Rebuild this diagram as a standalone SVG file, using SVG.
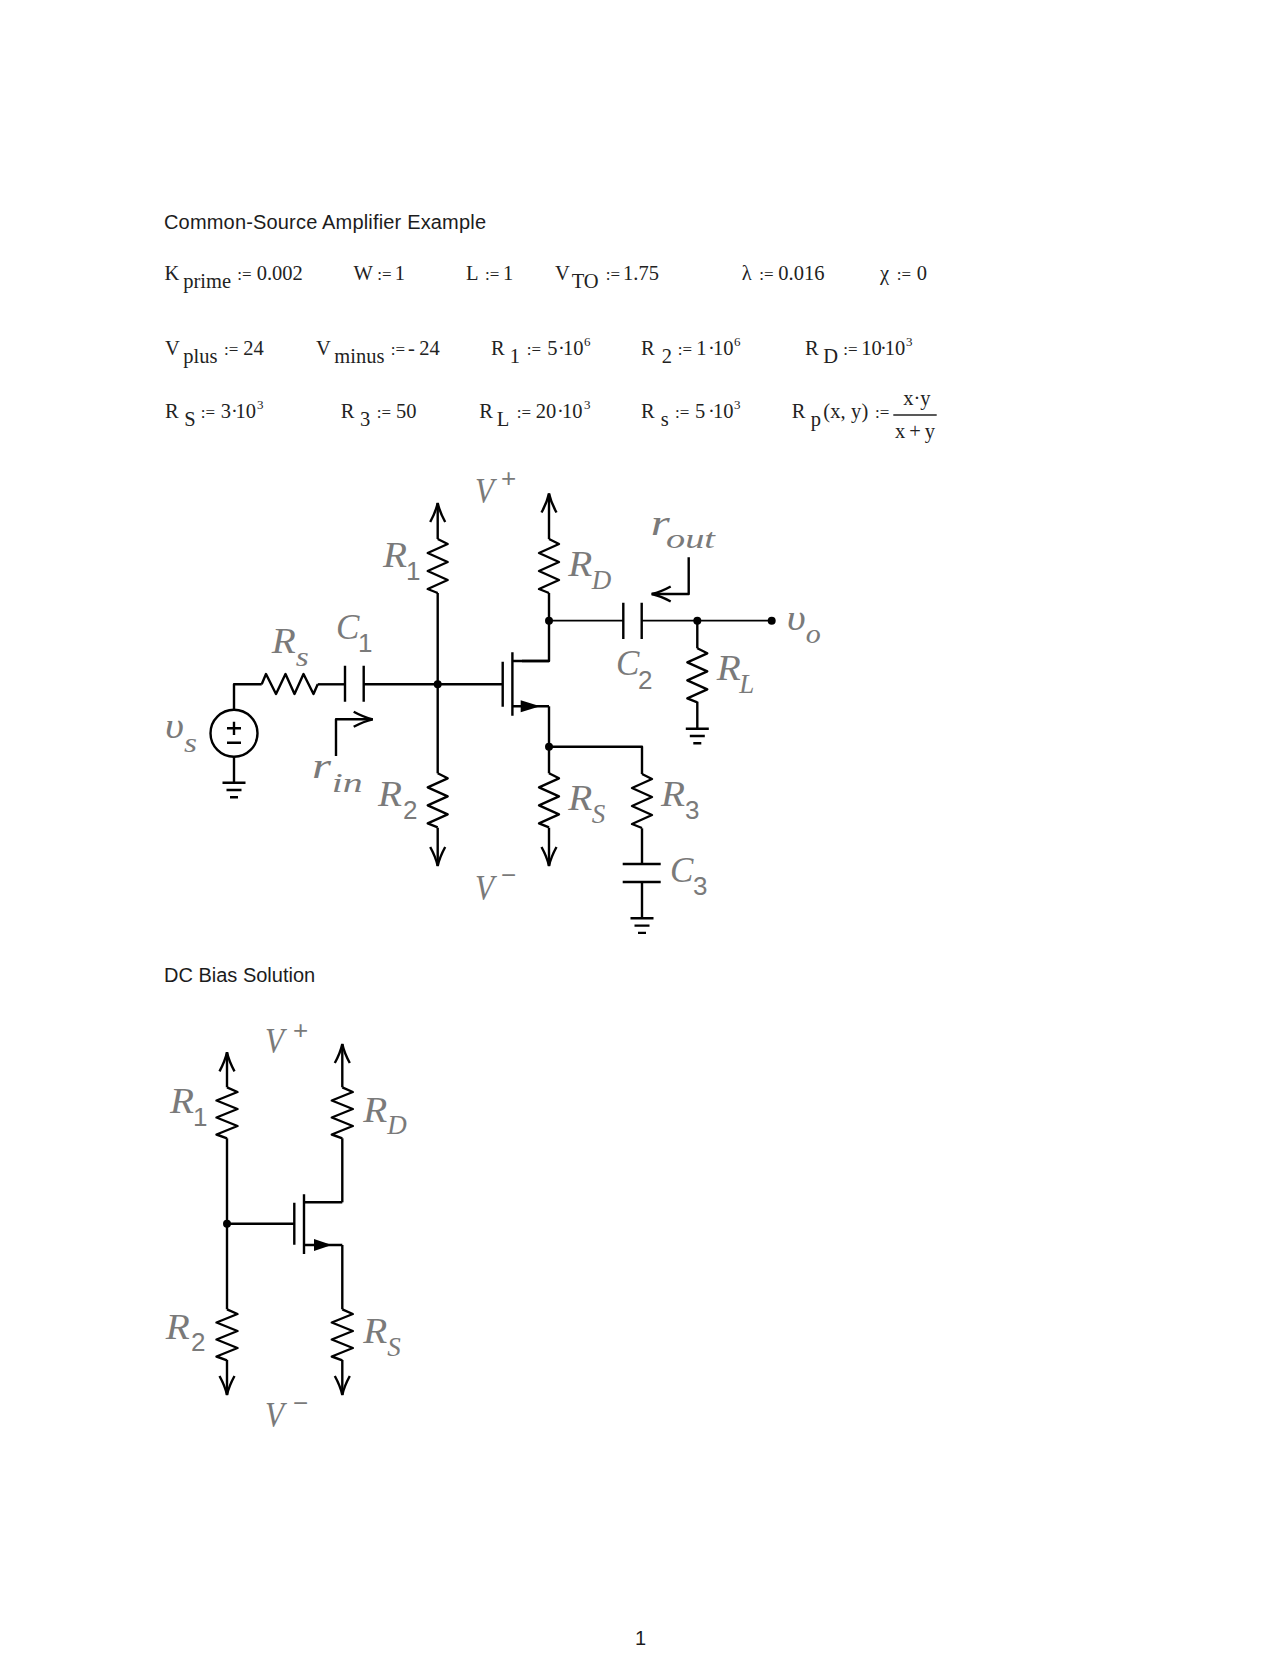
<svg xmlns="http://www.w3.org/2000/svg" xmlns:xlink="http://www.w3.org/1999/xlink" width="1280" height="1656" viewBox="0 0 1280 1656">
<style>
.h{font:20px "Liberation Sans",Arial,sans-serif;fill:#1c1c1c}
.e{font:20.5px "Liberation Serif","Times New Roman",serif;fill:#222}
.c{font:17px "Liberation Serif","Times New Roman",serif;fill:#222}
.u{font:13px "Liberation Serif","Times New Roman",serif;fill:#222}
.w{fill:none;stroke:#000;stroke-width:2.4;stroke-linejoin:round}
.t{stroke-width:1.800}
.a{fill:none;stroke:#000;stroke-width:2.4;stroke-linejoin:round;marker-end:url(#open)}
.d{fill:#000}
.l{font:italic 35px "Liberation Serif","Times New Roman",serif;fill:#7a7a7a}
.s{font:italic 27px "Liberation Serif","Times New Roman",serif;fill:#7a7a7a}
.n{font:26px "Liberation Sans",Arial,sans-serif;fill:#7a7a7a}
</style>
<defs>
<marker id="open" markerUnits="userSpaceOnUse" markerWidth="30" markerHeight="24" refX="20" refY="12" orient="auto" overflow="visible"><path d="M1 4.500Q11 10 20 12Q11 14 1 19.500" fill="none" stroke="#000" stroke-width="2.400"/></marker>
<path id="resA" class="w" d="M0 0L10 5L-10 14L10 23L-10 32L10 41L-10 50L0 54"/>
<path id="resB" class="w" d="M0 0L10.500 4.700L-10.500 13.200L10.500 21.700L-10.500 30.200L10.500 38.700L-10.500 47.200L0 51"/>
<g id="gnd"><path class="w" d="M-11.500 0H11.500M-7.500 7.300H7.500M-4 14.600H4"/></g>
<g id="fetA"><path class="w" d="M0 -22.500V22.500M9.700 -32V31.500M9.700 -23.300H46.300M9.700 22H46.300"/><path class="d" d="M18 16L37.500 22L18 28Z"/></g>
<g id="fetB"><path class="w" d="M0 -21V21M9.700 -29.400V30.300M9.700 -21.400H48M9.700 21.300H48"/><path class="d" d="M19.700 15.300L37.400 21.300L19.700 27.300Z"/></g>
</defs>

<g id="equations">
<text class="h" x="164" y="229" textLength="322">Common-Source Amplifier Example</text>
<text class="e" x="164.500" y="280">K</text><text class="e" x="183.300" y="287.500">prime</text><text class="c" x="237.300" y="280">:=</text><text class="e" x="256.700" y="280">0.002</text>
<text class="e" x="353.500" y="280">W</text><text class="c" x="377.300" y="280">:=</text><text class="e" x="394.700" y="280">1</text>
<text class="e" x="466" y="280">L</text><text class="c" x="485" y="280">:=</text><text class="e" x="503" y="280">1</text>
<text class="e" x="555" y="280">V</text><text class="e" x="571.700" y="287.700">TO</text><text class="c" x="605.700" y="280">:=</text><text class="e" x="623" y="280">1.75</text>
<text class="e" x="741.700" y="280">λ</text><text class="c" x="759.300" y="280">:=</text><text class="e" x="778.300" y="280">0.016</text>
<text class="e" x="880" y="280">χ</text><text class="c" x="896.700" y="280">:=</text><text class="e" x="916.700" y="280">0</text>

<text class="e" x="165" y="355">V</text><text class="e" x="183.300" y="362.700">plus</text><text class="c" x="224" y="355">:=</text><text class="e" x="243.300" y="355">24</text>
<text class="e" x="316" y="355">V</text><text class="e" x="334.300" y="362.700">minus</text><text class="c" x="390.700" y="355">:=</text><text class="e" x="408" y="355">-</text><text class="e" x="419.300" y="355">24</text>
<text class="e" x="491" y="355">R</text><text class="e" x="509.700" y="362.700">1</text><text class="c" x="526.700" y="355">:=</text><text class="e" x="547.300" y="355">5</text><text class="e" x="558" y="355">·</text><text class="e" x="563" y="355">10</text><text class="u" x="584" y="346">6</text>
<text class="e" x="641" y="355">R</text><text class="e" x="661.700" y="362.700">2</text><text class="c" x="677.700" y="355">:=</text><text class="e" x="696.300" y="355">1</text><text class="e" x="708" y="355">·</text><text class="e" x="713" y="355">10</text><text class="u" x="734" y="346">6</text>
<text class="e" x="805" y="355">R</text><text class="e" x="823.300" y="362.700">D</text><text class="c" x="843.300" y="355">:=</text><text class="e" x="861.300" y="355">10</text><text class="e" x="880" y="355">·</text><text class="e" x="884.700" y="355">10</text><text class="u" x="906" y="346">3</text>

<text class="e" x="165" y="418">R</text><text class="e" x="184.300" y="425.700">S</text><text class="c" x="200.700" y="418">:=</text><text class="e" x="220.700" y="418">3</text><text class="e" x="231" y="418">·</text><text class="e" x="235.500" y="418">10</text><text class="u" x="257" y="409">3</text>
<text class="e" x="340.700" y="418">R</text><text class="e" x="360" y="425.700">3</text><text class="c" x="376.700" y="418">:=</text><text class="e" x="396" y="418">50</text>
<text class="e" x="479.300" y="418">R</text><text class="e" x="496.700" y="425.700">L</text><text class="c" x="516.700" y="418">:=</text><text class="e" x="535.700" y="418">20</text><text class="e" x="557" y="418">·</text><text class="e" x="562" y="418">10</text><text class="u" x="584" y="409">3</text>
<text class="e" x="641" y="418">R</text><text class="e" x="660.700" y="425.700">s</text><text class="c" x="675" y="418">:=</text><text class="e" x="695" y="418">5</text><text class="e" x="708" y="418">·</text><text class="e" x="713" y="418">10</text><text class="u" x="734" y="409">3</text>
<text class="e" x="791.700" y="418">R</text><text class="e" x="810.700" y="425.700">p</text><text class="e" x="823.300" y="418" textLength="45">(x, y)</text><text class="c" x="875" y="418">:=</text>
<text class="e" x="903.300" y="405">x·y</text><path d="M893.300 415H936.700" stroke="#222" stroke-width="1.300"/><text class="e" x="895" y="438.300" letter-spacing="4">x+y</text>
</g>

<g id="connectors">
<path class="a" d="M437.700 539V503"/>
<path class="a" d="M437.700 827.700V866"/>
<path class="a" d="M549 539V493.500"/>
<path class="a" d="M549 827.700V866"/>
<path class="a" d="M336 756V719.300H372.700"/>
<path class="a" d="M688.700 557.300V594H651.700"/>
<path class="w" d="M437.700 593V773.300"/>
<path class="w" d="M363.700 684.300H502.700"/>
<path class="w" d="M317.700 684.300H345"/>
<path class="w" d="M261.700 684.300H234V709.800"/>
<path class="w" d="M234 756.800V782.700"/>
<path class="w" d="M549 593V661H522"/>
<path class="w" d="M549 706.300V773.300"/>
<path class="w t" d="M549 620.700H623.300"/>
<path class="w t" d="M641.700 620.700H771.700"/>
<path class="w" d="M697.300 620.700V648.300"/>
<path class="w" d="M697.300 701.700V728.700"/>
<path class="w" d="M549 746.700H642V774"/>
<path class="w" d="M642 828.300V864"/>
<path class="w" d="M642 882V918.300"/>
<path class="a" d="M227 1087.300V1052.300"/>
<path class="a" d="M227 1360V1395"/>
<path class="a" d="M342.300 1087.300V1044"/>
<path class="a" d="M342.300 1360V1395"/>
<path class="w" d="M227 1138.300V1309.300"/>
<path class="w" d="M227 1223.700H294.300"/>
<path class="w" d="M342.300 1138.300V1202.300"/>
<path class="w" d="M342.300 1245V1309.300"/>
</g>

<g id="vs">
<circle cx="234" cy="733.300" r="23.500" class="w"/>
<path class="w" d="M227 728.300H241M234 721.700V735M227 742.700H241"/>
<text class="l" x="165" y="738" textLength="19" lengthAdjust="spacingAndGlyphs">υ</text><text class="s" x="184" y="751.700" textLength="13" lengthAdjust="spacingAndGlyphs">s</text>
</g>
<g id="gnd-vs"><use xlink:href="#gnd" x="234" y="782.700"/></g>
<g id="Rs"><path class="w" d="M261.700 684.300L266 674L276 694L285.500 674L294.500 694L303.500 674L313.500 694L317.700 684.300"/>
<text class="l" x="271.700" y="652.700" textLength="24" lengthAdjust="spacingAndGlyphs">R</text><text class="s" x="295.700" y="666" textLength="13" lengthAdjust="spacingAndGlyphs">s</text></g>
<g id="C1"><path class="w" d="M345 665.700V701.700M363.700 665.700V701.700"/>
<text class="l" x="336" y="639.300">C</text><text class="n" x="358" y="652.300">1</text></g>
<g id="rin"><text class="l" x="312" y="778.300" textLength="19" lengthAdjust="spacingAndGlyphs">r</text><text class="s" x="331.700" y="792.300" textLength="31" lengthAdjust="spacingAndGlyphs">in</text></g>
<g id="R1"><use xlink:href="#resA" x="437.700" y="539"/>
<text class="l" x="383" y="566.700" textLength="24" lengthAdjust="spacingAndGlyphs">R</text><text class="n" x="406" y="580">1</text></g>
<g id="R2"><use xlink:href="#resA" x="437.700" y="773.300"/>
<text class="l" x="378" y="806" textLength="24" lengthAdjust="spacingAndGlyphs">R</text><text class="n" x="403" y="819.300">2</text></g>
<g id="J1"><circle class="d" cx="437.700" cy="684.300" r="4"/></g>
<g id="M1"><use xlink:href="#fetA" x="502.700" y="684.300"/></g>
<g id="Vplus1"><text class="l" x="475" y="503.300" textLength="19" lengthAdjust="spacingAndGlyphs">V</text><text class="n" x="501" y="487">+</text></g>
<g id="Vminus1"><text class="l" x="475" y="900" textLength="19" lengthAdjust="spacingAndGlyphs">V</text><text class="n" x="501" y="883.500">−</text></g>
<g id="RD"><use xlink:href="#resA" x="549" y="539"/>
<text class="l" x="568.300" y="575.700" textLength="24" lengthAdjust="spacingAndGlyphs">R</text><text class="s" x="591.700" y="589.300">D</text></g>
<g id="J2"><circle class="d" cx="549" cy="620.700" r="4"/></g>
<g id="J3"><circle class="d" cx="549" cy="746.700" r="4"/></g>
<g id="RS"><use xlink:href="#resA" x="549" y="773.300"/>
<text class="l" x="568.300" y="810" textLength="24" lengthAdjust="spacingAndGlyphs">R</text><text class="s" x="591.700" y="823.300">S</text></g>
<g id="C2"><path class="w" d="M623.300 602.700V639M641.700 602.700V639"/>
<text class="l" x="616" y="675">C</text><text class="n" x="638" y="689">2</text></g>
<g id="rout"><text class="l" x="650.700" y="535" textLength="19" lengthAdjust="spacingAndGlyphs">r</text><text class="s" x="666" y="548.300" textLength="49" lengthAdjust="spacingAndGlyphs">out</text></g>
<g id="J4"><circle class="d" cx="697.300" cy="620.700" r="4"/></g>
<g id="RL"><use xlink:href="#resA" x="697.300" y="648.300"/>
<text class="l" x="716.700" y="680" textLength="24" lengthAdjust="spacingAndGlyphs">R</text><text class="s" x="739.300" y="693.300">L</text></g>
<g id="gnd-RL"><use xlink:href="#gnd" x="697.300" y="728.700"/></g>
<g id="vo"><circle class="d" cx="771.700" cy="620.700" r="4"/>
<text class="l" x="786.700" y="630" textLength="19" lengthAdjust="spacingAndGlyphs">υ</text><text class="s" x="805.700" y="643.300" textLength="15" lengthAdjust="spacingAndGlyphs">o</text></g>
<g id="R3"><use xlink:href="#resA" x="642" y="774"/>
<text class="l" x="661" y="806" textLength="24" lengthAdjust="spacingAndGlyphs">R</text><text class="n" x="685" y="819.300">3</text></g>
<g id="C3"><path class="w" d="M622.700 864H660.700M622.700 882H660.700"/>
<text class="l" x="670" y="882.300">C</text><text class="n" x="693" y="895">3</text></g>
<g id="gnd-C3"><use xlink:href="#gnd" x="642" y="918.300"/></g>

<g id="title2"><text class="h" x="164" y="982">DC Bias Solution</text></g>
<g id="R1b"><use xlink:href="#resB" x="227" y="1087.300"/>
<text class="l" x="170" y="1113.300" textLength="24" lengthAdjust="spacingAndGlyphs">R</text><text class="n" x="193" y="1125.700">1</text></g>
<g id="R2b"><use xlink:href="#resB" x="227" y="1309.300"/>
<text class="l" x="165.700" y="1339" textLength="24" lengthAdjust="spacingAndGlyphs">R</text><text class="n" x="191" y="1351">2</text></g>
<g id="RDb"><use xlink:href="#resB" x="342.300" y="1087.300"/>
<text class="l" x="363.300" y="1122.300" textLength="24" lengthAdjust="spacingAndGlyphs">R</text><text class="s" x="387.300" y="1134">D</text></g>
<g id="RSb"><use xlink:href="#resB" x="342.300" y="1309.300"/>
<text class="l" x="363.300" y="1343.300" textLength="24" lengthAdjust="spacingAndGlyphs">R</text><text class="s" x="387.300" y="1355.700">S</text></g>
<g id="J1b"><circle class="d" cx="227" cy="1223.700" r="4"/></g>
<g id="M1b"><use xlink:href="#fetB" x="294.300" y="1223.700"/></g>
<g id="Vplus2"><text class="l" x="265" y="1053.300" textLength="19" lengthAdjust="spacingAndGlyphs">V</text><text class="n" x="293" y="1039">+</text></g>
<g id="Vminus2"><text class="l" x="265" y="1427.300" textLength="19" lengthAdjust="spacingAndGlyphs">V</text><text class="n" x="293" y="1412">−</text></g>
<g id="page"><text class="h" x="635" y="1645">1</text></g>
</svg>
